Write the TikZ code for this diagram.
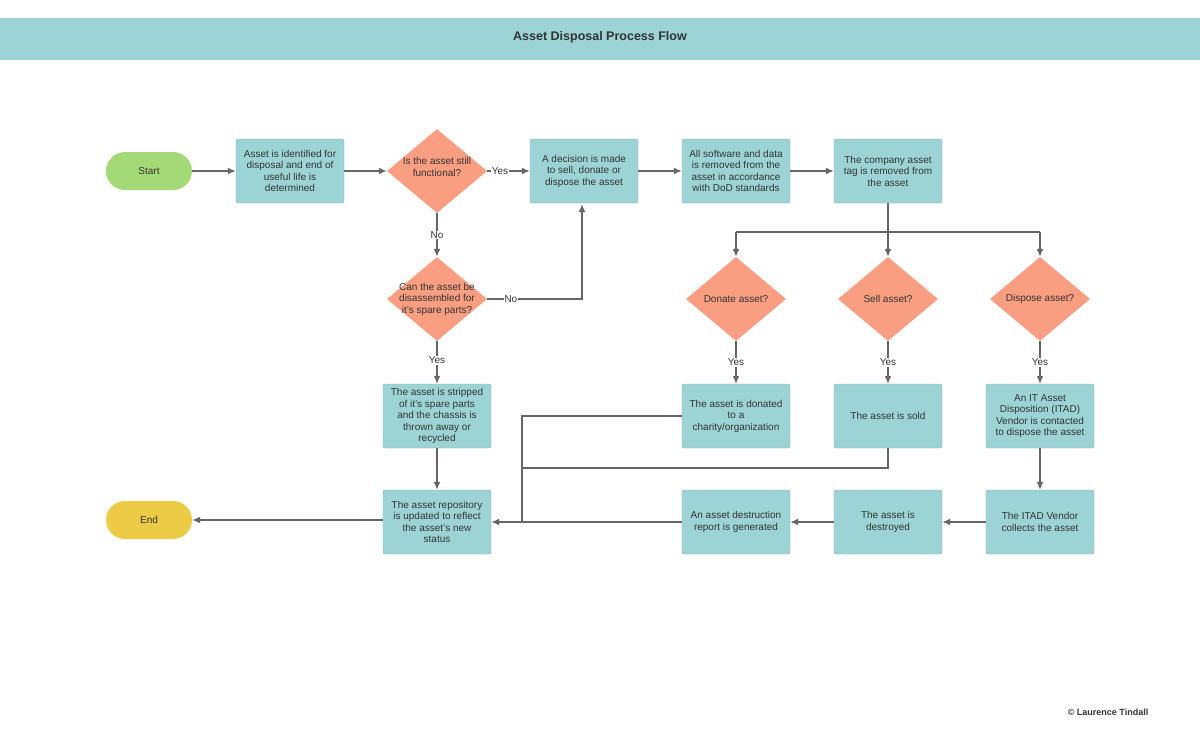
\documentclass[tikz,border=0pt]{standalone}
\usepackage{fontspec}
\setmainfont{Liberation Sans}
\usetikzlibrary{shapes.geometric,arrows.meta}
\definecolor{teal}{HTML}{9CD4D5}
\definecolor{sal}{HTML}{FA9E82}
\definecolor{grn}{HTML}{A3D977}
\definecolor{yel}{HTML}{EDCB46}
\definecolor{ln}{HTML}{666666}
\definecolor{tx}{HTML}{333333}
\begin{document}
\begin{tikzpicture}[x=1pt,y=-1pt,
 every node/.style={font=\fontsize{10}{11.5}\selectfont,text=tx,align=center},
 box/.style={draw=teal!80!black,line width=0.3pt,fill=teal,rounded corners=2pt,minimum width=108pt,minimum height=64pt,inner sep=2pt},
 dia/.style={diamond,fill=sal,minimum width=100pt,minimum height=84pt,aspect=1.2,inner sep=0pt},
 pill/.style={rounded corners=19pt,minimum width=86pt,minimum height=38pt},
 arr/.style={draw=ln,line width=1.6pt,-{Latex[length=8pt,width=7pt]}},
 lnk/.style={draw=ln,line width=1.6pt},
 lab/.style={fill=white,inner sep=1pt}]
\useasboundingbox (0,0) rectangle (1200,748);
\fill[teal] (0,18) rectangle (1200,60);
\node[font=\bfseries\fontsize{12.5}{14}\selectfont] (title) at (600,37) {Asset Disposal Process Flow};
\node[pill,fill=grn] (start) at (149,171) {Start};
\node[box] (b1) at (290,171) {Asset is identified for\\disposal and end of\\useful life is\\determined};
\node[dia] (d1) at (437,171) {};
\node (d1t) at (437,167) {Is the asset still\\functional?};
\node[box] (b2) at (584,171) {A decision is made\\to sell, donate or\\dispose the asset};
\node[box] (b3) at (736,171) {All software and data\\is removed from the\\asset in accordance\\with DoD standards};
\node[box] (b4) at (888,171) {The company asset\\tag is removed from\\the asset};
\node[dia] (d2) at (437,299) {};
\node (d2t) at (437,299) {Can the asset be\\disassembled for\\it's spare parts?};
\node[dia] (dd) at (736,299) {Donate asset?};
\node[dia] (ds) at (888,299) {Sell asset?};
\node[dia] (dx) at (1040,299) {Dispose asset?};
\node[box] (strip) at (437,416) {The asset is stripped\\of it's spare parts\\and the chassis is\\thrown away or\\recycled};
\node[box] (don) at (736,416) {The asset is donated\\to a\\charity/organization};
\node[box] (sold) at (888,416) {The asset is sold};
\node[box] (itad) at (1040,416) {An IT Asset\\Disposition (ITAD)\\Vendor is contacted\\to dispose the asset};
\node[box] (rep) at (437,522) {The asset repository\\is updated to reflect\\the asset's new\\status};
\node[box] (rpt) at (736,522) {An asset destruction\\report is generated};
\node[box] (dst) at (888,522) {The asset is\\destroyed};
\node[box] (col) at (1040,522) {The ITAD Vendor\\collects the asset};
\node[pill,fill=yel] (end) at (149,520) {End};
\node[font=\bfseries\fontsize{9}{10}\selectfont] (cr) at (1108,712) {© Laurence Tindall};

\draw[arr] (start) -- (b1);
\draw[arr] (b1) -- (d1);
\draw[arr] (d1) -- node[lab,pos=0.3]{Yes} (b2);
\draw[arr] (b2) -- (b3);
\draw[arr] (b3) -- (b4);
\draw[arr] (d1) -- node[lab,pos=0.5]{No} (d2);
\draw[arr] (d2.east) -- node[lab,pos=0.25]{No} (582,299) -- (582,204);
\draw[arr] (d2) -- node[lab,pos=0.45]{Yes} (strip);
\draw[lnk] (b4.south) -- (888,232);
\draw[arr] (736,232) -- (dd.north);
\draw[arr] (888,232) -- (ds.north);
\draw[arr] (1040,232) -- (dx.north);
\draw[lnk] (736,232) -- (1040,232);
\draw[arr] (dd) -- node[lab,pos=0.5]{Yes} (don);
\draw[arr] (ds) -- node[lab,pos=0.5]{Yes} (sold);
\draw[arr] (dx) -- node[lab,pos=0.5]{Yes} (itad);
\draw[arr] (strip) -- (rep);
\draw[arr] (itad) -- (col);
\draw[arr] (col) -- (dst);
\draw[arr] (dst) -- (rpt);
\draw[arr] (rpt) -- (rep);
\draw[lnk] (don.west) -- (522,416) -- (522,522);
\draw[lnk] (sold.south) -- (888,468) -- (522,468);
\draw[arr] (rep.west |- end) -- (end);
\end{tikzpicture}
\end{document}
